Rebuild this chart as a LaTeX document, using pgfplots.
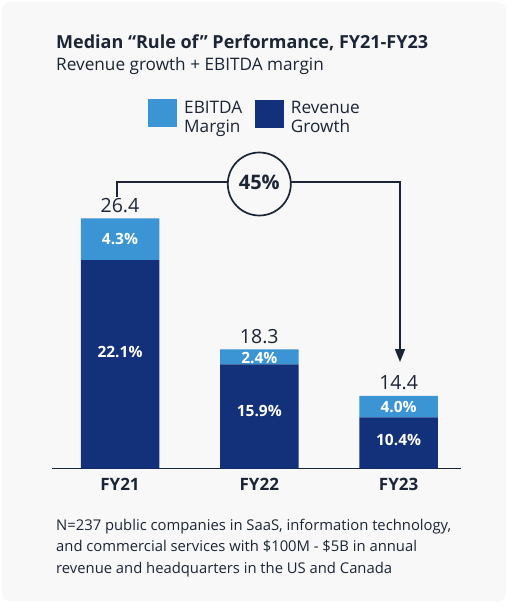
\documentclass[border=0pt]{standalone}
\usepackage{pgfplots}
\pgfplotsset{compat=1.18}
\usepackage{pgfplotstable}
\usepackage{fontspec}
\setmainfont{Open Sans}
\usetikzlibrary{arrows.meta}

\definecolor{ebitda}{HTML}{3B94D3}
\definecolor{revenue}{HTML}{13317B}
\definecolor{ink}{HTML}{1B2535}
\definecolor{card}{HTML}{F8F8F8}

\tikzset{
  inlabel/.style={text=white, inner sep=0pt, font=\fontsize{15.5}{18}\selectfont\bfseries},
  totlabel/.style={anchor=base, yshift=6pt, inner sep=0pt, text=ink, font=\fontsize{19.5}{22}\selectfont},
  txt/.style={anchor=base west, inner sep=0pt, text=ink},
}

% bar heights as drawn in the source chart (it is not to scale)
\pgfplotstableread{
x rev ebitda
0 22.1 4.42
1 11.05 1.59
2 5.43 2.26
}\drawn

\begin{document}
\begin{tikzpicture}
\useasboundingbox (0,0) rectangle (508pt,-616pt);
\fill[white] (0,0) rectangle (508pt,-616pt);
\fill[card, rounded corners=8pt] (2pt,-2pt) rectangle (506pt,-601pt);

% titles
\node[txt, font=\fontsize{18}{20}\selectfont\bfseries]
  at (56pt,-48.3pt) {Median “Rule of” Performance, FY21-FY23};
\node[txt, font=\fontsize{17.2}{20}\selectfont]
  at (56pt,-70pt) {Revenue growth + EBITDA margin};

% legend
\fill[ebitda] (148.3pt,-99pt) rectangle (177pt,-127.3pt);
\fill[revenue] (255pt,-100pt) rectangle (283.7pt,-128pt);
\node[txt, font=\fontsize{17.2}{20}\selectfont] at (184pt,-113.3pt) {EBITDA};
\node[txt, font=\fontsize{17.2}{20}\selectfont] at (184pt,-132.7pt) {Margin};
\node[txt, font=\fontsize{17.2}{20}\selectfont] at (290.7pt,-113.3pt) {Revenue};
\node[txt, font=\fontsize{17.2}{20}\selectfont] at (290.7pt,-132.7pt) {Growth};

\begin{axis}[
  at={(52.3pt,-468.5pt)}, anchor=south west,
  scale only axis, width=408.7pt, height=282.9pt,
  xmin=-0.486, xmax=2.448, ymin=0, ymax=30,
  axis x line=bottom, axis y line=none,
  axis line style={draw=ink, line width=1.8pt, -},
  xtick={0,1,2}, xticklabels={FY21,FY22,FY23},
  ytick=\empty,
  major tick length=0pt,
  xticklabel style={anchor=base, yshift=-21.5pt, text=ink,
    font=\fontsize{17}{20}\selectfont\bfseries},
  ybar stacked, bar width=78.5pt,
  clip=false,
]
\addplot[fill=revenue, draw=none] table[x=x, y=rev] {\drawn};
\addplot[fill=ebitda, draw=none] table[x=x, y=ebitda] {\drawn};

% anchor points for the labels (bar tops and segment label spots)
\coordinate (t0) at (axis cs:0,26.52);
\coordinate (t1) at (axis cs:1,12.64);
\coordinate (t2) at (axis cs:2,7.69);
\coordinate (e0) at (axis cs:0,24.34);
\coordinate (r0) at (axis cs:0,12.39);
\coordinate (e1) at (axis cs:1,11.69);
\coordinate (r1) at (axis cs:1,6.10);
\coordinate (e2) at (axis cs:2,6.49);
\coordinate (r2) at (axis cs:2,3.02);
\end{axis}

\node[totlabel] at (t0) {26.4};
\node[totlabel] at (t1) {18.3};
\node[totlabel] at (t2) {14.4};
\node[inlabel] at (e0) {4.3\%};
\node[inlabel] at (r0) {22.1\%};
\node[inlabel] at (e1) {2.4\%};
\node[inlabel] at (r1) {15.9\%};
\node[inlabel] at (e2) {4.0\%};
\node[inlabel] at (r2) {10.4\%};

% change bracket
\draw[ink, line width=1.7pt] (117.3pt,-196.7pt) -- (117.3pt,-182pt) -- (400pt,-182pt);
\draw[ink, line width=1.7pt, -{Triangle[length=13pt,width=10pt]}]
  (400pt,-181.15pt) -- (400pt,-362pt);
\draw[ink, line width=1.7pt, fill=card] (259.3pt,-184pt) circle (31.5pt);
\node[anchor=base, inner sep=0pt, text=ink, font=\fontsize{20}{24}\selectfont\bfseries]
  at (259.3pt,-189.5pt) {45\%};

% footnote
\node[txt, font=\fontsize{14.8}{21}\selectfont] at (56pt,-530.7pt)
  {N=237 public companies in SaaS, information technology,};
\node[txt, font=\fontsize{14.8}{21}\selectfont] at (56pt,-551.7pt)
  {and commercial services with \$100M - \$5B in annual};
\node[txt, font=\fontsize{14.8}{21}\selectfont] at (56pt,-573.3pt)
  {revenue and headquarters in the US and Canada};
\end{tikzpicture}
\end{document}
